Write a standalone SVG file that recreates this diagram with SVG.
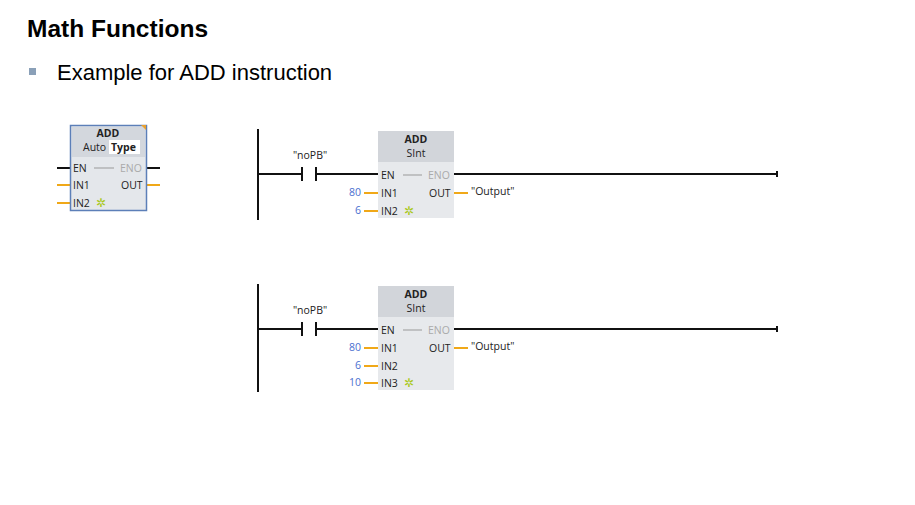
<svg xmlns="http://www.w3.org/2000/svg" width="915" height="505" viewBox="0 0 915 505">
<style>
text{font-family:"Open Sans","Liberation Sans",sans-serif}
.t{font-size:10.5px;fill:#222}
.g{font-size:10.5px;fill:#aaa}
.n{font-size:10.5px;fill:#4a6fd0}
.h{font-size:10.5px;font-weight:bold;fill:#222;text-anchor:middle}
.r{text-anchor:end}
.k{stroke:#111;stroke-width:2;fill:none}
.o{stroke:#f0a818;stroke-width:2;fill:none}
.e{stroke:#999;stroke-width:1}
.s{font-size:12px;fill:#a8c818}
</style>
<rect width="915" height="505" fill="#fff"/>
<text x="27" y="37" style="font-family:'Liberation Sans',sans-serif;font-size:24.5px;font-weight:bold" fill="#000">Math Functions</text>
<rect x="29" y="68" width="7" height="7" fill="#8aa0b8"/>
<text x="57" y="80" style="font-family:'Liberation Sans',sans-serif;font-size:22px" fill="#000">Example for ADD instruction</text>

<g id="generic">
<path class="k" d="M57 168H70M146 168H160"/>
<path class="o" d="M57 185H70M57 203H70M146 185H160"/>
<rect x="70.5" y="125.5" width="76" height="85" fill="#e4e7eb" stroke="#5c7fb8" stroke-width="1.5"/>
<rect x="72" y="127" width="73" height="30" fill="#d3d7dd"/>
<path d="M141 125h5v5z" fill="#e8a030"/>
<text class="h" x="108" y="137">ADD</text>
<text class="t" x="83" y="151">Auto</text>
<rect x="109" y="140" width="31" height="14" fill="#fff"/>
<text class="t" x="111" y="151" style="font-weight:bold">Type</text>
<text class="t" x="73" y="172">EN</text><line class="e" x1="94" y1="168" x2="114" y2="168"/><text class="g" x="120" y="172">ENO</text>
<text class="t" x="73" y="189">IN1</text><text class="t" x="121" y="189">OUT</text>
<text class="t" x="73" y="207">IN2</text><text class="s" x="96" y="207">✲</text>
</g>

<g id="rung1">
<path class="k" d="M258 129V220M258 174H302M316 174H378M454 174H777M302 167V181M316 167V181M777 171V177"/>
<text class="t" x="310" y="159" text-anchor="middle">"noPB"</text>
<rect x="378" y="131" width="76" height="87" fill="#e7e9ec"/>
<rect x="378" y="131" width="76" height="31" fill="#d2d5da"/>
<text class="h" x="416" y="143">ADD</text><text class="h" x="416" y="157" style="font-weight:normal">SInt</text>
<text class="t" x="381" y="179">EN</text><line class="e" x1="403" y1="175" x2="422" y2="175"/><text class="g" x="428" y="179">ENO</text>
<path class="o" d="M364 193H378M364 211H378M454 193H468"/>
<text class="n r" x="361" y="196">80</text><text class="n r" x="361" y="214">6</text>
<text class="t" x="381" y="197">IN1</text><text class="t" x="429" y="197">OUT</text>
<text class="t" x="381" y="215">IN2</text><text class="s" x="404" y="215">✲</text>
<text class="t" x="471" y="195">"Output"</text>
</g>

<g id="rung2">
<path class="k" d="M258 284V392M258 329H302M316 329H378M454 329H777M302 322V336M316 322V336M777 326V332"/>
<text class="t" x="310" y="314" text-anchor="middle">"noPB"</text>
<rect x="378" y="286" width="76" height="104" fill="#e7e9ec"/>
<rect x="378" y="286" width="76" height="31" fill="#d2d5da"/>
<text class="h" x="416" y="298">ADD</text><text class="h" x="416" y="312" style="font-weight:normal">SInt</text>
<text class="t" x="381" y="334">EN</text><line class="e" x1="403" y1="330" x2="422" y2="330"/><text class="g" x="428" y="334">ENO</text>
<path class="o" d="M364 348H378M364 366H378M364 383H378M454 348H468"/>
<text class="n r" x="361" y="351">80</text><text class="n r" x="361" y="369">6</text><text class="n r" x="361" y="386">10</text>
<text class="t" x="381" y="352">IN1</text><text class="t" x="429" y="352">OUT</text>
<text class="t" x="381" y="370">IN2</text>
<text class="t" x="381" y="387">IN3</text><text class="s" x="404" y="387">✲</text>
<text class="t" x="471" y="350">"Output"</text>
</g>
</svg>
